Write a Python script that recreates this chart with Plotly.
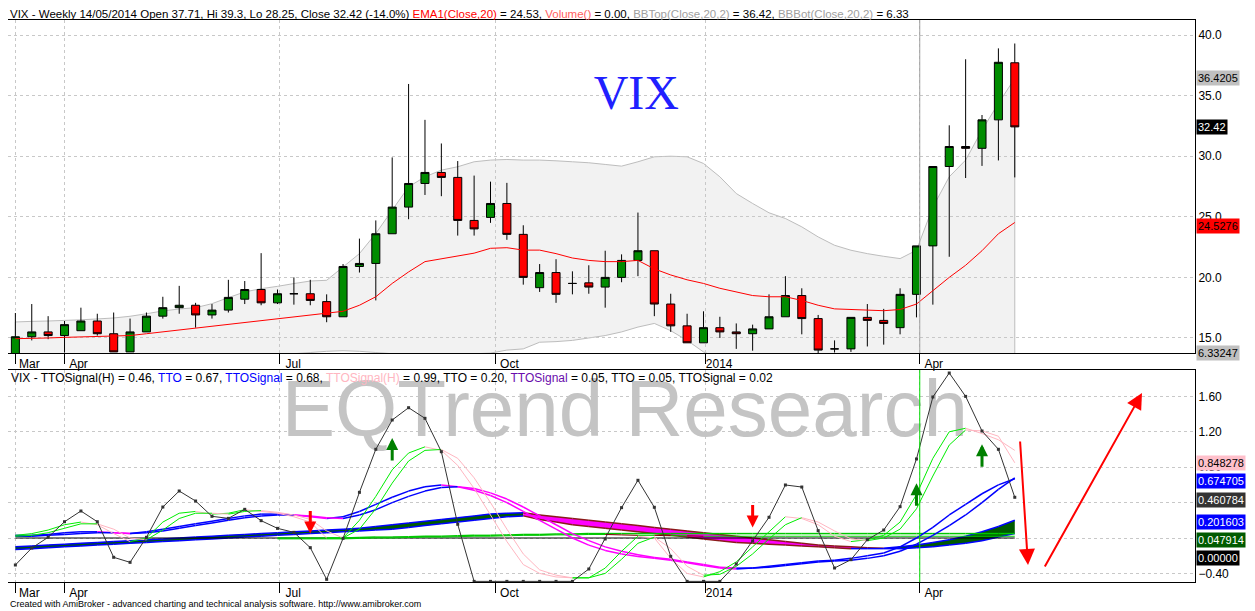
import plotly.graph_objects as go

# ---- weekly VIX candles (Mar 2013 - May 2014) ----
opens = [13.7, 15.1, 15.5, 15.2, 15.6, 16.4, 15.35, 13.85, 15.5, 16.8, 17.5, 17.7, 16.9, 17.3, 18.2, 19.0,
         17.9, 18.65, 18.65, 18.0, 16.75, 20.9, 21.15, 23.6, 25.8, 27.75, 28.66, 28.25, 24.7, 24.95, 26.1, 23.55,
         19.15, 20.4, 19.5, 19.55, 19.2, 20.0, 21.4, 22.2, 17.8, 16.0, 14.6, 15.85, 15.5, 15.35, 15.75, 16.75,
         18.5, 16.6, 14.1, 14.1, 16.7, 16.45, 15.85, 18.6, 22.6, 29.15, 30.8, 30.65, 33.0, 37.71]
highs = [17.06, 17.8, 16.8, 16.4, 17.5, 17.0, 17.1, 16.6, 17.1, 18.4, 19.3, 17.9, 17.8, 19.8, 19.7, 22.0,
         19.0, 20.0, 19.8, 18.6, 21.1, 23.2, 24.7, 29.9, 35.96, 33.0, 31.05, 29.6, 28.4, 27.9, 27.8, 24.3,
         21.1, 21.5, 20.5, 21.0, 22.2, 21.9, 25.35, 22.2, 18.65, 17.0, 17.2, 16.75, 16.2, 16.1, 18.6, 20.1,
         19.1, 16.9, 14.8, 16.7, 17.8, 17.4, 19.1, 22.6, 29.15, 32.55, 38.0, 33.4, 38.9, 39.3]
lows = [13.7, 14.8, 14.9, 13.8, 15.6, 15.2, 13.85, 13.85, 15.5, 16.6, 17.0, 15.85, 16.6, 17.1, 17.8, 17.7,
        17.8, 17.75, 17.7, 16.3, 16.75, 20.4, 18.1, 23.6, 24.8, 26.8, 26.7, 23.45, 23.45, 24.5, 23.1, 19.4,
        18.8, 17.9, 18.6, 18.65, 17.5, 19.6, 20.1, 16.8, 15.5, 14.6, 14.6, 15.0, 14.1, 13.95, 15.75, 16.75,
        15.3, 13.75, 13.8, 13.85, 14.3, 14.45, 15.3, 16.7, 17.75, 21.7, 28.2, 29.2, 29.65, 28.25]
closes = [15.1, 15.5, 15.2, 16.1, 16.4, 15.35, 13.85, 15.5, 16.8, 17.5, 17.7, 16.9, 17.3, 18.35, 19.0, 17.9,
          18.65, 18.65, 18.1, 16.75, 20.9, 21.15, 23.6, 25.8, 27.75, 28.66, 28.25, 24.7, 24.0, 26.1, 23.55, 20.0,
          20.4, 18.6, 19.5, 19.2, 20.0, 21.4, 22.2, 17.8, 16.0, 14.6, 15.85, 15.5, 15.35, 15.75, 16.75, 18.5,
          16.6, 14.0, 14.1, 16.7, 16.45, 16.2, 18.6, 22.6, 29.15, 30.8, 30.65, 33.0, 37.75, 32.42]

ema20 = [14.94, 14.95, 15.0, 15.05, 15.1, 15.15, 15.15, 15.2, 15.35, 15.5, 15.65, 15.8, 15.95, 16.1, 16.25, 16.45,
         16.6, 16.75, 16.9, 17.05, 17.2, 17.7, 18.4, 19.5, 20.45, 21.3, 21.55, 21.8, 22.0, 22.4, 22.45, 22.25,
         22.25, 21.96, 21.6, 21.4, 21.3, 21.3, 21.4, 20.7, 20.2, 19.8, 19.5, 19.1, 18.8, 18.5, 18.4, 18.4,
         18.1, 17.7, 17.4, 17.35, 17.3, 17.25, 17.35, 17.8, 18.9, 20.0, 21.0, 22.2, 23.6, 24.53]
bb_top = [16.32, 16.37, 16.4, 16.45, 16.5, 16.57, 16.65, 16.79, 17.0, 17.23, 17.39, 17.5, 17.83, 18.33, 18.8, 19.07,
          19.26, 19.49, 19.7, 19.76, 20.86, 21.96, 23.62, 25.55, 27.47, 28.3, 28.85, 29.13, 29.54, 29.68, 29.73, 29.68,
          29.68, 29.62, 29.54, 29.46, 29.32, 29.18, 29.54, 29.95, 30.0, 29.95, 29.4, 28.3, 26.92, 26.1, 25.33, 24.86,
          24.17, 23.34, 22.65, 22.24, 21.96, 21.74, 21.55, 22.24, 25.8, 28.3, 29.68, 32.15, 34.36, 36.42]
bb_bot = [12.6, 12.7, 12.8, 12.8, 12.9, 12.9, 13.0, 13.0, 13.1, 13.1, 13.2, 13.3, 13.3, 13.4, 13.5, 13.5,
          13.6, 13.7, 13.8, 13.9, 13.95, 13.9, 13.8, 13.7, 13.6, 13.5, 13.5, 13.6, 13.7, 13.75, 14.0, 14.1,
          14.65, 14.7, 14.8, 15.0, 15.2, 15.5, 15.9, 16.2, 15.6, 14.8, 13.85, 13.3, 12.8, 12.5, 12.3, 12.2,
          12.3, 12.4, 12.5, 12.6, 12.6, 12.7, 12.8, 12.6, 11.5, 10.0, 8.8, 7.8, 7.0, 6.33]

# ---- TTO indicator panel ----
tto_h = [-0.305, -0.113, 0.008, 0.184, 0.305, 0.184, -0.218, -0.275, 0.008, 0.35, 0.531, 0.418, 0.245, 0.222, 0.324, 0.196,
         0.109, 0.064, -0.109, -0.467, -0.004, 0.516, 1.002, 1.333, 1.472, 1.352, 0.975, 0.155, -0.49, -0.49, -0.49, -0.49,
         -0.49, -0.49, -0.49, -0.35, -0.011, 0.343, 0.652, 0.347, -0.207, -0.49, -0.49, -0.49, -0.294, -0.034, 0.234, 0.599,
         0.576, 0.083, -0.339, -0.245, -0.019, 0.09, 0.354, 0.893, 1.593, 1.864, 1.6, 1.209, 1.002, 0.46]
fast_a = [0.03, 0.05, 0.09, 0.15, 0.18, 0.15, 0.05, -0.04, 0.00, 0.18, 0.28, 0.30, 0.27, 0.28, 0.32, 0.30,
          0.28, 0.24, 0.18, 0.00, 0.00, 0.20, 0.47, 0.77, 0.96, 1.03, 0.99, 0.82, 0.56, 0.26, -0.04, -0.30,
          -0.40, -0.44, -0.45, -0.45, -0.34, -0.15, 0.02, 0.00, -0.23, -0.40, -0.44, -0.38, -0.27, -0.10, 0.07, 0.24,
          0.22, 0.15, 0.02, -0.04, -0.02, 0.03, 0.18, 0.49, 0.90, 1.20, 1.24, 1.18, 1.11, 0.99]
fast_b = [0.02, 0.03, 0.06, 0.11, 0.16, 0.16, 0.10, 0.00, -0.02, 0.09, 0.22, 0.28, 0.28, 0.27, 0.30, 0.31,
          0.29, 0.26, 0.21, 0.08, 0.00, 0.10, 0.33, 0.62, 0.87, 0.99, 1.00, 0.90, 0.68, 0.40, 0.10, -0.18,
          -0.36, -0.42, -0.45, -0.45, -0.40, -0.24, -0.06, 0.01, -0.12, -0.32, -0.42, -0.41, -0.32, -0.18, -0.01, 0.15,
          0.23, 0.18, 0.08, -0.01, -0.03, 0.00, 0.10, 0.33, 0.70, 1.05, 1.22, 1.21, 1.15, 0.85]
mid_a = [0.03, 0.03, 0.04, 0.06, 0.07, 0.07, 0.06, 0.05, 0.07, 0.10, 0.13, 0.16, 0.19, 0.22, 0.25, 0.27,
         0.27, 0.26, 0.24, 0.22, 0.24, 0.30, 0.38, 0.46, 0.53, 0.58, 0.60, 0.58, 0.54, 0.48, 0.40, 0.30,
         0.20, 0.10, 0.00, -0.08, -0.14, -0.18, -0.21, -0.23, -0.25, -0.28, -0.31, -0.34, -0.35, -0.34, -0.32, -0.30,
         -0.28, -0.26, -0.25, -0.23, -0.20, -0.17, -0.10, 0.00, 0.12, 0.26, 0.38, 0.50, 0.60, 0.67]
mid_b = [0.02, 0.02, 0.03, 0.04, 0.05, 0.06, 0.06, 0.05, 0.06, 0.08, 0.11, 0.14, 0.17, 0.20, 0.23, 0.25,
         0.26, 0.26, 0.25, 0.23, 0.22, 0.26, 0.32, 0.40, 0.47, 0.53, 0.57, 0.58, 0.56, 0.51, 0.44, 0.35,
         0.25, 0.15, 0.05, -0.03, -0.10, -0.15, -0.19, -0.22, -0.24, -0.27, -0.30, -0.33, -0.34, -0.34, -0.33, -0.31,
         -0.29, -0.27, -0.26, -0.25, -0.23, -0.20, -0.15, -0.07, 0.03, 0.14, 0.26, 0.40, 0.55, 0.68]
slow_a = [-0.10, -0.09, -0.08, -0.07, -0.06, -0.05, -0.04, -0.03, -0.02, -0.01, 0.00, 0.01, 0.02, 0.03, 0.04, 0.05,
          0.06, 0.07, 0.08, 0.09, 0.10, 0.11, 0.13, 0.15, 0.17, 0.19, 0.21, 0.23, 0.25, 0.27, 0.28, 0.285,
          0.26, 0.24, 0.22, 0.20, 0.18, 0.16, 0.14, 0.12, 0.10, 0.08, 0.06, 0.04, 0.02, 0.00, -0.02, -0.04,
          -0.06, -0.08, -0.09, -0.10, -0.11, -0.115, -0.10, -0.08, -0.05, -0.02, 0.02, 0.07, 0.13, 0.20]
slow_b = [-0.13, -0.12, -0.11, -0.10, -0.09, -0.08, -0.07, -0.06, -0.05, -0.04, -0.03, -0.02, -0.01, 0.00, 0.01, 0.02,
          0.03, 0.04, 0.05, 0.06, 0.07, 0.08, 0.09, 0.10, 0.12, 0.14, 0.16, 0.18, 0.20, 0.22, 0.24, 0.25,
          0.21, 0.18, 0.15, 0.13, 0.11, 0.09, 0.07, 0.05, 0.03, 0.01, -0.01, -0.03, -0.05, -0.06, -0.07, -0.08,
          -0.09, -0.10, -0.11, -0.12, -0.12, -0.12, -0.12, -0.11, -0.10, -0.08, -0.06, -0.03, 0.01, 0.05]
zero_a = [None] * 16 + [0.00, 0.00, 0.00, 0.00, 0.00, 0.005, 0.01, 0.01, 0.015, 0.02, 0.02, 0.025, 0.03, 0.03, 0.035, 0.04,
          0.04, 0.045, 0.045, 0.05, 0.05, 0.05, 0.05, 0.05, 0.05, 0.05, 0.05, 0.05, 0.05, 0.05, 0.05, 0.05,
          0.05, 0.05, 0.05, 0.05, 0.05, 0.05, 0.05, 0.05, 0.05, 0.05, 0.05, 0.05, 0.05, 0.05]
zero_b = [None] * 16 + [-0.01, -0.01, -0.01, -0.01, -0.01, -0.005, 0.0, 0.0, 0.005, 0.01, 0.01, 0.015, 0.02, 0.02, 0.025, 0.03,
          0.03, 0.035, 0.035, 0.04, 0.04, 0.035, 0.03, 0.03, 0.025, 0.025, 0.02, 0.02, 0.02, 0.02, 0.02, 0.02,
          0.02, 0.02, 0.02, 0.02, 0.02, 0.02, 0.02, 0.02, 0.02, 0.02, 0.02, 0.02, 0.02, 0.02]

buy_signals = [(23, 1.13), (55, 0.62), (59, 1.06)]
sell_signals = [(18, 0.05), (45, 0.12)]

tick_pos = [0, 3, 16.1, 29.3, 42.1, 55.2]
tick_text = ["Mar", "Apr", "Jul", "Oct", "2014", "Apr"]

idx = list(range(len(closes)))
FONT = "Liberation Sans"

# the page puts the figure 8px in from the window corner
OFF = 8
W, H = 1255 - OFF, 611 - OFF
PLOT_L, PLOT_R = 0, 60


def py(y):
    return 1 - (y - OFF) / H


def px(x):
    return (x - OFF - PLOT_L) / (W - PLOT_L - PLOT_R)


def split_by_slope(vals):
    up_x, up_y, dn_x, dn_y = [], [], [], []
    for i in range(len(vals) - 1):
        if vals[i] is None or vals[i + 1] is None:
            continue
        if vals[i + 1] >= vals[i]:
            up_x += [idx[i], idx[i + 1], None]
            up_y += [vals[i], vals[i + 1], None]
        else:
            dn_x += [idx[i], idx[i + 1], None]
            dn_y += [vals[i], vals[i + 1], None]
    return up_x, up_y, dn_x, dn_y


def add_two_tone(fig, vals, up_color, dn_color, width=1):
    ux, uy, dx, dy = split_by_slope(vals)
    fig.add_trace(go.Scatter(x=ux, y=uy, mode="lines", line=dict(color=up_color, width=width),
                             xaxis="x2", yaxis="y2", hoverinfo="skip"))
    fig.add_trace(go.Scatter(x=dx, y=dy, mode="lines", line=dict(color=dn_color, width=width),
                             xaxis="x2", yaxis="y2", hoverinfo="skip"))


fig = go.Figure()

# watermark first so the lines are drawn over it
fig.add_trace(go.Scatter(x=[37.2], y=[1.38], mode="text", text=["EQTrend Research"],
                         textfont=dict(family=FONT, size=80, color="#c4c4c4"),
                         xaxis="x2", yaxis="y2", hoverinfo="skip"))
fig.add_trace(go.Scatter(x=[37.9], y=[34.9], mode="text", text=["VIX"],
                         textfont=dict(family="Liberation Serif", size=48, color="#2020ff"),
                         hoverinfo="skip"))

fig.add_trace(go.Candlestick(
    x=idx, open=opens, high=highs, low=lows, close=closes,
    increasing=dict(fillcolor="#008c00", line=dict(color="#000000", width=1)),
    decreasing=dict(fillcolor="#ff0000", line=dict(color="#000000", width=1)),
    whiskerwidth=0, hoverinfo="skip",
))
fig.add_trace(go.Scatter(x=idx, y=ema20, mode="lines", line=dict(color="#ff0000", width=1), hoverinfo="skip"))

# slow ribbon
runs = []
start = 0
for i in range(1, len(slow_a) - 1):
    if (slow_a[i + 1] >= slow_a[i]) != (slow_a[i] >= slow_a[i - 1]):
        runs.append((start, i))
        start = i
runs.append((start, len(slow_a) - 1))
for a, b in runs:
    rising = slow_a[b] >= slow_a[a]
    xs = idx[a:b + 1] + idx[a:b + 1][::-1]
    ys = slow_a[a:b + 1] + slow_b[a:b + 1][::-1]
    fig.add_trace(go.Scatter(x=xs, y=ys, fill="toself", mode="lines", line=dict(width=0),
                             fillcolor="#005a00" if rising else "#ff00ff",
                             xaxis="x2", yaxis="y2", hoverinfo="skip"))
add_two_tone(fig, slow_a, "#0000ff", "#8b1a1a", 1.5)
add_two_tone(fig, slow_b, "#0000ff", "#8b1a1a", 1.5)

fig.add_trace(go.Scatter(x=[idx[0], idx[-1]], y=[0, 0], mode="lines", line=dict(color="#000000", width=1),
                         xaxis="x2", yaxis="y2", hoverinfo="skip"))
add_two_tone(fig, zero_a, "#00c800", "#800000", 1.5)
add_two_tone(fig, zero_b, "#00c800", "#800000", 1)

add_two_tone(fig, mid_a, "#0000ff", "#ff00ff", 1.5)
add_two_tone(fig, mid_b, "#0000ff", "#ff00ff", 1.5)
add_two_tone(fig, fast_a, "#00ee00", "#ffb6c1", 1)
add_two_tone(fig, fast_b, "#00ee00", "#ffb6c1", 1)

fig.add_trace(go.Scatter(x=idx, y=tto_h, mode="lines+markers", line=dict(color="#333333", width=1),
                         marker=dict(symbol="square", size=3, color="#333333"),
                         xaxis="x2", yaxis="y2", hoverinfo="skip"))

annotations = []
for x, y in buy_signals:
    annotations.append(dict(x=x, y=y, xref="x2", yref="y2", ax=0, ay=24, showarrow=True,
                            arrowhead=2, arrowsize=0.8, arrowwidth=3, arrowcolor="#008000", text=""))
for x, y in sell_signals:
    annotations.append(dict(x=x, y=y, xref="x2", yref="y2", ax=0, ay=-24, showarrow=True,
                            arrowhead=2, arrowsize=0.8, arrowwidth=3, arrowcolor="#ff0000", text=""))

# hand drawn arrows
annotations.append(dict(x=px(1028), y=py(565), xref="paper", yref="paper", ax=-8, ay=-125,
                        showarrow=True, arrowhead=2, arrowsize=1.6, arrowwidth=2, arrowcolor="#ff0000", text=""))
annotations.append(dict(x=px(1142), y=py(393), xref="paper", yref="paper", ax=-98, ay=175,
                        showarrow=True, arrowhead=2, arrowsize=1.6, arrowwidth=2, arrowcolor="#ff0000", text=""))

title_top = ("VIX - Weekly 14/05/2014 Open 37.71, Hi 39.3, Lo 28.25, Close 32.42 (-14.0%) "
             "<span style='color:#ff0000'>EMA1(Close,20)</span> = 24.53, "
             "<span style='color:#ff6060'>Volume()</span> = 0.00, "
             "<span style='color:#a0a0a0'>BBTop(Close,20,2)</span> = 36.42, "
             "<span style='color:#a0a0a0'>BBBot(Close,20,2)</span> = 6.33")
title_bot = ("VIX - TTOSignal(H) = 0.46, <span style='color:#0000ff'>TTO</span> = 0.67, "
             "<span style='color:#0000ff'>TTOSignal</span> = 0.68, "
             "<span style='color:#ffb6c1'>TTOSignal(H)</span> = 0.99, TTO = 0.20, "
             "<span style='color:#6a0dad'>TTOSignal</span> = 0.05, TTO = 0.05, TTOSignal = 0.02")
annotations.append(dict(x=0.001, y=py(14), xref="paper", yref="paper", xanchor="left", yanchor="middle",
                        text=title_top, showarrow=False, borderpad=0,
                        font=dict(family=FONT, size=11.5, color="#000000")))
annotations.append(dict(x=0.001, y=py(378), xref="paper", yref="paper", xanchor="left", yanchor="middle",
                        text=title_bot, showarrow=False, font=dict(family=FONT, size=12, color="#000000")))
annotations.append(dict(x=0.0, y=py(604), xref="paper", yref="paper", xanchor="left", yanchor="middle",
                        text="Created with AmiBroker - advanced charting and technical analysis software. http://www.amibroker.com",
                        showarrow=False, font=dict(family=FONT, size=9, color="#000000")))

# value tags on the right axis
tags = [
    ("36.4205", 78, "#c0c0c0", "#000000"),
    ("32.42", 127, "#000000", "#ffffff"),
    ("24.5276", 226, "#ff0000", "#000000"),
    ("6.33247", 353, "#c0c0c0", "#000000"),
    ("0.848278", 463, "#ffc0cb", "#000000"),
    ("0.674705", 481, "#0000ff", "#ffffff"),
    ("0.460784", 500, "#333333", "#ffffff"),
    ("0.201603", 522, "#0000ff", "#ffffff"),
    ("0.047914", 540, "#005a00", "#ffffff"),
    ("0.00000", 558, "#000000", "#ffffff"),
]
for text, y, bg, fg in tags:
    annotations.append(dict(x=1, y=py(y), xref="paper", yref="paper", xanchor="left", yanchor="middle",
                            xshift=1, text=text, showarrow=False, bgcolor=bg, borderpad=1,
                            font=dict(family=FONT, size=11, color=fg)))

# Bollinger band area under the candles
band_path = "M " + " L ".join(f"{i},{v}" for i, v in zip(idx, bb_top))
band_path += " L " + " L ".join(f"{i},{v}" for i, v in zip(idx[::-1], bb_bot[::-1])) + " Z"

shapes = [
    dict(type="path", path=band_path, xref="x", yref="y", layer="below",
         fillcolor="#f2f2f2", line=dict(color="#bdbdbd", width=1)),
    dict(type="line", x0=55.2, x1=55.2, xref="x", y0=0, y1=1, yref="y domain",
         line=dict(color="#a0a0a0", width=1)),
    dict(type="line", x0=55.2, x1=55.2, xref="x2", y0=0, y1=1, yref="y2 domain",
         line=dict(color="#00dd00", width=1)),
]

xcommon = dict(range=[-0.45, 72.0], tickvals=tick_pos, ticktext=tick_text, ticks="outside", ticklen=10,
               tickcolor="#000000", ticklabelshift=14, ticklabelstandoff=-10,
               showgrid=True, gridcolor="#c8c8c8", griddash="dot",
               showline=True, linecolor="#000000", mirror=True, zeroline=False,
               tickfont=dict(family=FONT, size=12, color="#000000"))

fig.update_layout(
    width=W, height=H,
    margin=dict(l=PLOT_L, r=PLOT_R, t=0, b=0),
    paper_bgcolor="#ffffff", plot_bgcolor="#ffffff",
    showlegend=False,
    annotations=annotations, shapes=shapes,
    xaxis=dict(domain=[0, 1], anchor="y", rangeslider=dict(visible=False), **xcommon),
    xaxis2=dict(domain=[0, 1], anchor="y2", matches="x", **xcommon),
    yaxis=dict(domain=[py(353), py(20)], range=[13.76, 41.24], side="right",
               tickvals=[15, 20, 25, 30, 35, 40], tickformat=".1f",
               showgrid=True, gridcolor="#c8c8c8", griddash="dot", zeroline=False,
               showline=True, linecolor="#000000", mirror=True,
               tickfont=dict(family=FONT, size=12, color="#000000")),
    yaxis2=dict(domain=[py(582), py(370)], range=[-0.497, 1.898], side="right",
                tickvals=[-0.4, 0, 0.4, 0.8, 1.2, 1.6], tickformat=".2f",
                showgrid=True, gridcolor="#c8c8c8", griddash="dot", zeroline=False,
                showline=True, linecolor="#000000", mirror=True,
                tickfont=dict(family=FONT, size=12, color="#000000")),
)

fig.write_html("out.html")
